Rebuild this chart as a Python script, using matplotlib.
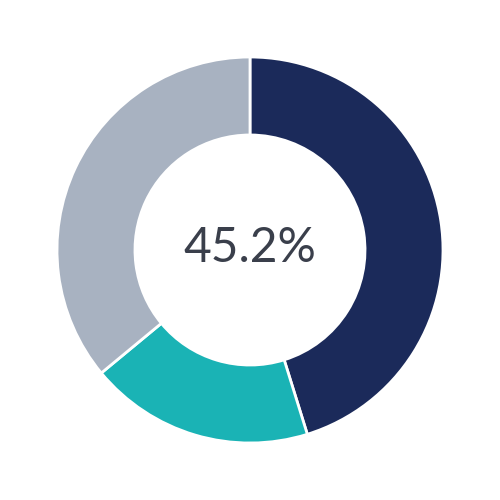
import numpy as np
from matplotlib import pyplot as plt

# Slice data (percent), clockwise from 12 o'clock
labels = ['Navy', 'Teal', 'Gray']
values = [45.2, 18.8, 36.0]
colors = ['#1b2a5a', '#1ab3b5', '#a8b2c1']
center_text = '45.2%'

fig = plt.figure(figsize=(5, 5), dpi=100)
ax = fig.add_axes([0, 0, 1, 1])

ax.pie(values, colors=colors, startangle=90, counterclock=False,
       radius=1.0, wedgeprops=dict(width=0.404, edgecolor='white', linewidth=2))

ax.text(0, 0.01, center_text, ha='center', va='center',
        fontsize=34.5, color='#3a3f4b', family=['Lato', 'DejaVu Sans'])

lim = 250 / 193
ax.set_xlim(-lim, lim)
ax.set_ylim(-lim, lim)
ax.set_aspect('equal')
ax.axis('off')

fig.savefig('out.png', dpi=100, facecolor='white')
